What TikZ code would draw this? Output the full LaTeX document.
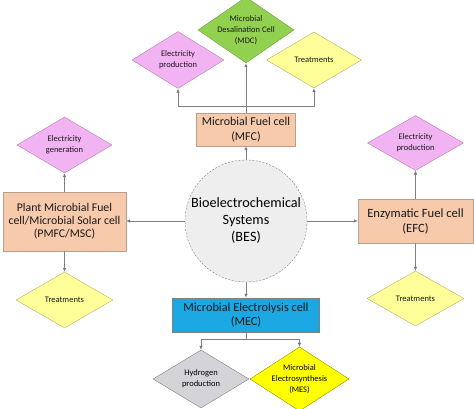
\documentclass[tikz,border=0pt]{standalone}
\usepackage{fontspec}
\setmainfont{Carlito}
\usetikzlibrary{shapes.geometric,arrows.meta}
\definecolor{peach}{HTML}{F7CAAC}
\definecolor{peachb}{HTML}{B8A090}
\definecolor{pinkd}{HTML}{F2B3F2}
\definecolor{pinkb}{HTML}{B080B0}
\definecolor{greend}{HTML}{92D050}
\definecolor{greenb}{HTML}{70A040}
\definecolor{yellowd}{HTML}{FFFF99}
\definecolor{yellowb}{HTML}{B0B070}
\definecolor{blueb}{HTML}{1AA7E2}
\definecolor{greyd}{HTML}{D4D4D8}
\definecolor{yellowsat}{HTML}{FFFF00}
\definecolor{yellowsb}{HTML}{909000}
\definecolor{circf}{HTML}{EEEEEE}
\definecolor{linec}{HTML}{808080}
\definecolor{tipc}{HTML}{303030}
\tikzset{
  box/.style={rectangle, draw=peachb, fill=peach, align=center, inner sep=1pt,
    font=\fontsize{12}{14.5}\selectfont, text=black!90},
  dmd/.style={diamond, draw=#1b, fill=#1d, inner sep=-5pt, align=center,
    font=\fontsize{8.5}{10.7}\selectfont, text=black!90},
  arr/.style={draw=linec, line width=0.7pt, -{Latex[length=4pt,width=3.5pt,fill=tipc]}},
  ln/.style={draw=linec, line width=0.7pt}
}
\begin{document}
\begin{tikzpicture}[x=1pt,y=-1pt]
\useasboundingbox (0,0) rectangle (474,409);
% centre
\node[circle, draw=gray, dash pattern=on 2pt off 1.5pt, fill=circf, minimum size=122pt, inner sep=0pt, align=center,
  font=\fontsize{14.2}{17}\selectfont] (bes) at (246,221) {Bioelectrochemical\\Systems\\(BES)};
% boxes
\node[box, minimum width=99pt, minimum height=33pt] (mfc) at (246,129.5) {Microbial Fuel cell\\(MFC)};
\node[box, minimum width=123pt, minimum height=59pt, font=\fontsize{11.8}{13}\selectfont] (pmfc) at (64.5,221.5) {Plant Microbial Fuel\\cell/Microbial Solar cell\\(PMFC/MSC)};
\node[box, minimum width=115pt, minimum height=44pt, font=\fontsize{12.6}{15}\selectfont] (efc) at (415.5,221) {Enzymatic Fuel cell\\(EFC)};
\node[box, draw=gray, fill=blueb, minimum width=147pt, minimum height=34pt, font=\fontsize{12.3}{14.5}\selectfont] (mec) at (246,315) {Microbial Electrolysis cell\\(MEC)};
% diamonds
\node[dmd=pink, minimum width=92pt, minimum height=57pt] (elecT) at (178,60) {Electricity\\production};
\node[dmd=green, minimum width=96pt, minimum height=57pt] (mdc) at (246,30) {Microbial\\Desalination Cell\\(MDC)};
\node[dmd=yellow, minimum width=95pt, minimum height=56pt] (treatT) at (314,60) {Treatments};
\node[dmd=pink, minimum width=95pt, minimum height=56pt] (elecL) at (64.5,145) {Electricity\\generation};
\node[dmd=yellow, minimum width=97pt, minimum height=56pt] (treatL) at (64.5,300) {Treatments};
\node[dmd=pink, minimum width=96pt, minimum height=55pt] (elecR) at (415.5,143) {Electricity\\production};
\node[dmd=yellow, minimum width=97pt, minimum height=55pt] (treatR) at (415.5,298.5) {Treatments};
\node[diamond, draw=gray, fill=greyd, inner sep=-5pt, align=center, font=\fontsize{8.5}{10.7}\selectfont,
  minimum width=96pt, minimum height=58pt] (hyd) at (201,379) {Hydrogen\\production};
\node[diamond, draw=yellowsb, fill=yellowsat, inner sep=-5pt, align=center, font=\fontsize{8.5}{10.7}\selectfont,
  minimum width=99pt, minimum height=58pt] (mes) at (299.5,379) {Microbial\\Electrosynthesis\\(MES)};
% connectors
\coordinate (jt) at (246,106);
\coordinate (jb) at (246,339);
\draw[arr] (bes.north) -- (mfc.south);
\draw[arr] (mfc.north) -- (mdc.south);
\draw[arr] (jt) -| (elecT.south);
\draw[arr] (jt) -| (treatT.south);
\draw[arr] (bes.west) -- (bes.west -| pmfc.east);
\draw[arr] (bes.east) -- (bes.east -| efc.west);
\draw[arr] (pmfc.north) -- (elecL.south);
\draw[arr] (pmfc.south) -- (treatL.north);
\draw[arr] (efc.north) -- (elecR.south);
\draw[arr] (efc.south) -- (treatR.north);
\draw[arr] (bes.south) -- (mec.north);
\draw[ln] (mec.south) -- (jb);
\draw[arr] (jb) -| (hyd.north);
\draw[arr] (jb) -| (mes.north);
\end{tikzpicture}
\end{document}
